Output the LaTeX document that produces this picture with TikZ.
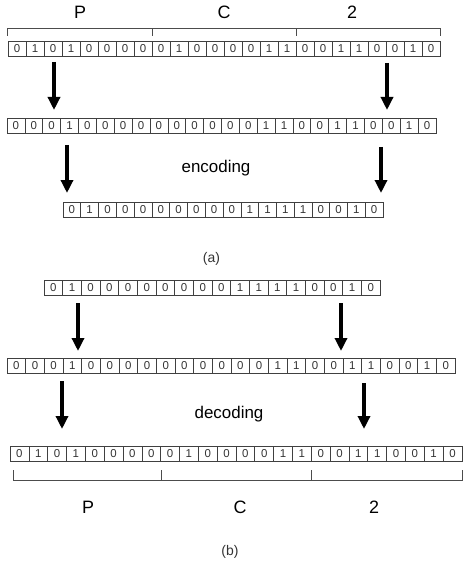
\documentclass[tikz,border=0pt]{standalone}
\usepackage{fontspec}
\setmainfont{Liberation Sans}
\usetikzlibrary{arrows.meta}

\tikzset{
  bit/.style={draw=black!75, line width=0.6pt, minimum height=15bp, inner sep=0pt,
    text=black!80, font=\fontsize{11.5}{11.5}\selectfont},
  bigarrow/.style={line width=3.5bp, -{Triangle[width=12bp,length=13bp]}},
  bracket/.style={draw=black!70, line width=0.8pt},
  grouptxt/.style={font=\fontsize{18}{18}\selectfont},
  codetxt/.style={font=\fontsize{17}{17}\selectfont, anchor=base},
  subcap/.style={font=\fontsize{14}{14}\selectfont, text=black!80}
}

% one row of bit cells: name, left x, centre y, cell width, bits
\newcommand{\bitrow}[5]{%
  \foreach \b [count=\i] in {#5}
    \node[bit, minimum width=#4bp] (#1-\i) at ({#2+(\i-0.5)*#4},#3) {\b};
}

\begin{document}
\begin{tikzpicture}[x=1bp,y=-1bp]
\useasboundingbox (0,0) rectangle (474,566);

% (a) encoding
\bitrow{ra}{8}{48.5}{18}{0,1,0,1,0,0,0,0,0,1,0,0,0,0,1,1,0,0,1,1,0,0,1,0}
\bitrow{rb}{7}{125.5}{17.87}{0,0,0,1,0,0,0,0,0,0,0,0,0,0,1,1,0,0,1,1,0,0,1,0}
\bitrow{rc}{63}{210}{17.78}{0,1,0,0,0,0,0,0,0,0,1,1,1,1,0,0,1,0}

\draw[bracket] ([yshift=5bp]ra-1.north west) -- ([yshift=12bp]ra-1.north west)
  -- ([yshift=12bp]ra-24.north east) -- ([yshift=5bp]ra-24.north east);
\foreach \k in {8,16}
  \draw[bracket] ([yshift=5bp]ra-\k.north east) -- ([yshift=12bp]ra-\k.north east);

\node[grouptxt] (pa) at (80,12) {P};
\node[grouptxt] (ca) at (224,12) {C};
\node[grouptxt] (ta) at (352,12) {2};
\node[codetxt] (enc) at (216,172) {encoding};
\node[subcap] (capa) at (211.5,259) {(a)};

% (b) decoding
\bitrow{rd}{44}{288}{18.67}{0,1,0,0,0,0,0,0,0,0,1,1,1,1,0,0,1,0}
\bitrow{re}{7}{366}{18.67}{0,0,0,1,0,0,0,0,0,0,0,0,0,0,1,1,0,0,1,1,0,0,1,0}
\bitrow{rf}{10}{453.5}{18.83}{0,1,0,1,0,0,0,0,0,1,0,0,0,0,1,1,0,0,1,1,0,0,1,0}

\draw[bracket] ([xshift=4bp,yshift=-9bp]rf-1.south west) -- ([xshift=4bp,yshift=-19bp]rf-1.south west)
  -- ([yshift=-19bp]rf-24.south east) -- ([yshift=-9bp]rf-24.south east);
\foreach \k in {8,16}
  \draw[bracket] ([yshift=-9bp]rf-\k.south east) -- ([yshift=-19bp]rf-\k.south east);

\node[grouptxt] (pb) at (88,507) {P};
\node[grouptxt] (cb) at (240,507) {C};
\node[grouptxt] (tb) at (374,507) {2};
\node[codetxt] (dec) at (229,418) {decoding};
\node[subcap] (capb) at (230,552) {(b)};

% arrows between the rows
\foreach \n/\x/\ya/\yb in {a1/54/62/110, a2/387/63/110, a3/67/145/193, a4/381/147/193,
                          b1/78/303/351, b2/341/303/351, b3/62/381/429, b4/364/383/429} {
  \coordinate (\n-s) at (\x,\ya);
  \coordinate (\n-e) at (\x,\yb);
  \draw[bigarrow] (\n-s) -- (\n-e);
}
\end{tikzpicture}
\end{document}
